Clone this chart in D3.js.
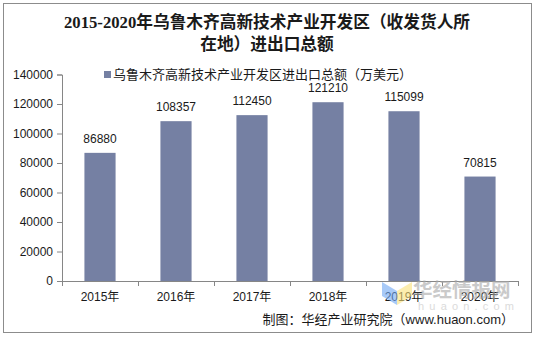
<!DOCTYPE html>
<html>
<head>
<meta charset="utf-8">
<script src="https://cdn.jsdelivr.net/npm/d3@7"></script>
<style>
  html, body { margin: 0; padding: 0; background: #fff; }
  svg { display: block; }
</style>
</head>
<body>
<svg id="chart" width="535" height="337"></svg>
<script>
// 2015-2020 import/export totals (10k USD)
const years = ["2015年", "2016年", "2017年", "2018年", "2019年", "2020年"];
const values = [86880, 108357, 112450, 121210, 115099, 70815];
const yTicks = [0, 20000, 40000, 60000, 80000, 100000, 120000, 140000];
const titleLines = ["2015-2020年乌鲁木齐高新技术产业开发区（收发货人所", "在地）进出口总额"];
const seriesName = "乌鲁木齐高新技术产业开发区进出口总额（万美元）";
const sourceText = "制图：华经产业研究院（www.huaon.com）";

const svg = d3.select("#chart");
const W = 535, H = 337;
const margin = { left: 62, right: 17, top: 74.5, bottom: 56 };
const barColor = "#7580a3";
const font = "'Liberation Sans', Arial, 'Noto Sans CJK SC', sans-serif";

// outer frame
svg.append("rect")
  .attr("x", 3.5).attr("y", 3.5)
  .attr("width", W - 7).attr("height", H - 8)
  .attr("fill", "#fff").attr("stroke", "#8c8c8c").attr("stroke-width", 1);

// title
const title = svg.append("text")
  .attr("text-anchor", "middle")
  .attr("font-family", "'Liberation Serif', 'Noto Sans CJK SC', serif")
  .attr("font-weight", "bold")
  .attr("font-size", 16.7)
  .attr("fill", "#1a1a1a");
titleLines.forEach((t, i) => {
  title.append("tspan").attr("x", 267).attr("y", 28 + i * 22).text(t);
});

const x = d3.scaleBand()
  .domain(years)
  .range([margin.left, W - margin.right])
  .paddingInner(0.59)
  .paddingOuter(0.295);

const y = d3.scaleLinear()
  .domain([0, 140000])
  .range([H - margin.bottom, margin.top]);

// y axis
const yAxis = svg.append("g")
  .attr("transform", `translate(${margin.left},0)`)
  .call(d3.axisLeft(y).tickValues(yTicks).tickSize(5).tickPadding(4).tickFormat(d3.format("d")));
yAxis.select(".domain").attr("stroke", "#868686");
yAxis.selectAll(".tick line").attr("stroke", "#868686");
yAxis.selectAll(".tick text")
  .attr("font-family", font).attr("font-size", 12).attr("fill", "#1a1a1a");

// x axis with ticks at category boundaries
const xBase = H - margin.bottom;
const xAxis = svg.append("g").attr("transform", `translate(0,${xBase})`);
xAxis.append("line")
  .attr("x1", margin.left).attr("x2", W - margin.right)
  .attr("y1", 0.5).attr("y2", 0.5)
  .attr("stroke", "#868686");
const step = x.step();
const bounds = d3.range(years.length + 1).map(i => margin.left + i * step);
xAxis.selectAll("line.bt").data(bounds).join("line")
  .attr("class", "bt")
  .attr("x1", d => Math.round(d) + 0.5).attr("x2", d => Math.round(d) + 0.5)
  .attr("y1", 0).attr("y2", 5)
  .attr("stroke", "#868686");

// watermark logo (drawn beneath the axis labels)
const wm = svg.append("g").attr("opacity", 0.6);
wm.append("path").attr("d", "M382,282 L397,291 L397,305 L382,296 Z").attr("fill", "#6fa8f5");
wm.append("path").attr("d", "M397,291 L412,282 L412,296 L397,305 Z").attr("fill", "#fbe27a");
wm.append("text")
  .attr("x", 413).attr("y", 297)
  .attr("font-family", "'Noto Sans CJK SC', sans-serif").attr("font-weight", "bold")
  .attr("font-size", 19.5).attr("fill", "#a8a8a8")
  .text("华经情报网");
wm.append("text")
  .attr("x", 418).attr("y", 310)
  .attr("font-family", font).attr("font-size", 11).attr("letter-spacing", 5.2)
  .attr("fill", "#c4c4c4")
  .text("huaon.com");

xAxis.selectAll("text").data(years).join("text")
  .attr("x", d => x(d) + x.bandwidth() / 2)
  .attr("y", 20)
  .attr("text-anchor", "middle")
  .attr("font-family", font).attr("font-size", 12).attr("fill", "#1a1a1a")
  .text(d => d);

// bars
svg.append("g").selectAll("rect").data(values).join("rect")
  .attr("x", (d, i) => x(years[i]))
  .attr("y", d => y(d))
  .attr("width", x.bandwidth())
  .attr("height", d => y(0) - y(d))
  .attr("fill", barColor);

// value labels
svg.append("g").selectAll("text").data(values).join("text")
  .attr("x", (d, i) => x(years[i]) + x.bandwidth() / 2)
  .attr("y", d => y(d) - 10)
  .attr("text-anchor", "middle")
  .attr("font-family", font).attr("font-size", 12).attr("fill", "#1a1a1a")
  .text(d => d);

// legend
svg.append("rect")
  .attr("x", 104).attr("y", 71).attr("width", 7).attr("height", 7)
  .attr("fill", barColor);
svg.append("text")
  .attr("x", 113).attr("y", 79)
  .attr("font-family", font).attr("font-size", 13).attr("fill", "#1a1a1a")
  .text(seriesName);

// source
svg.append("text")
  .attr("x", 514).attr("y", 324)
  .attr("text-anchor", "end")
  .attr("font-family", font).attr("font-size", 13).attr("fill", "#1a1a1a")
  .text(sourceText);
</script>
</body>
</html>
